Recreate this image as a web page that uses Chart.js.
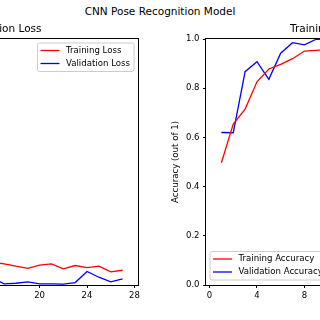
<!DOCTYPE html>
<html>
<head>
<meta charset="utf-8">
<script src="https://cdn.jsdelivr.net/npm/chart.js@4"></script>
<style>
  html, body { margin: 0; padding: 0; width: 320px; height: 320px; overflow: hidden; background: #fff; }
  #suptitle { position: absolute; left: 0; top: 5px; width: 320px; text-align: center;
              font: 10.5px "DejaVu Sans"; line-height: 12px; color: #000; }
  canvas { position: absolute; top: 0; }
  #lossChart { left: -261px; }
  #accChart { left: 146px; }
</style>
</head>
<body>
<div id="suptitle">CNN Pose Recognition Model</div>
<canvas id="lossChart" width="419" height="320"></canvas>
<canvas id="accChart" width="419" height="320"></canvas>
<script>
// data (epochs 1-16 of the loss plot and 10-27 of accuracy are cropped out, estimated)
const epochs = [1, 2, 3, 4, 5, 6, 7, 8, 9, 10, 11, 12, 13, 14, 15, 16, 17, 18, 19, 20, 21, 22, 23, 24, 25, 26, 27];
const trainLoss = [1.95, 1.02, 0.78, 0.55, 0.42, 0.38, 0.33, 0.29, 0.27, 0.26, 0.25, 0.245, 0.24, 0.235, 0.23, 0.231,
                   0.215, 0.191, 0.170, 0.201, 0.215, 0.164, 0.198, 0.177, 0.191, 0.134, 0.150];
const valLoss = [1.15, 1.05, 0.42, 0.30, 0.46, 0.18, 0.07, 0.09, 0.03, 0.025, 0.04, 0.02, 0.03, 0.015, 0.05, 0.075,
                 0.012, 0.018, 0.032, 0.012, 0.012, 0.008, 0.025, 0.137, 0.079, 0.032, 0.063];
const trainAcc = [0.497, 0.654, 0.715, 0.826, 0.878, 0.897, 0.920, 0.951, 0.954, 0.958, 0.962, 0.965, 0.968, 0.970,
                  0.972, 0.975, 0.976, 0.978, 0.977, 0.979, 0.981, 0.980, 0.982, 0.983, 0.984, 0.985, 0.986];
const valAcc = [0.620, 0.619, 0.867, 0.908, 0.836, 0.942, 0.985, 0.976, 0.999, 1.0, 1.0, 0.995, 1.0, 1.0, 0.99, 1.0,
                1.0, 1.0, 0.995, 1.0, 1.0, 1.0, 1.0, 0.97, 0.985, 1.0, 0.99];
const epochTicks = [0, 4, 8, 12, 16, 20, 24, 28];
const lossTicks = [0, 0.5, 1.0, 1.5, 2.0, 2.5];
const accTicks = [0, 0.2, 0.4, 0.6, 0.8, 1.0];

Chart.defaults.font.family = '"DejaVu Sans"';
Chart.defaults.color = '#000';

// matplotlib-ish frame, axes title and legend inside the axes
const mplLegend = {
    id: 'mplLegend',
    afterDraw(chart, args, opts) {
        const { ctx, chartArea: a } = chart;
        ctx.save();
        ctx.strokeStyle = '#000';
        ctx.lineWidth = 1;
        ctx.strokeRect(a.left - 0.5, a.top - 0.5, a.right - a.left + 1, a.bottom - a.top + 1);

        // title centred over the axes, like ax.set_title
        ctx.font = '10.5px "DejaVu Sans"';
        ctx.fillStyle = '#000';
        ctx.textAlign = 'center';
        ctx.textBaseline = 'middle';
        ctx.fillText(opts.title, (a.left + a.right) / 2, a.top - 10);

        const items = chart.data.datasets.map(d => ({ text: d.label, color: d.borderColor }));
        ctx.font = '8.6px "DejaVu Sans"';
        ctx.textAlign = 'left';
        const textW = Math.max(...items.map(i => ctx.measureText(i.text).width));
        const boxW = 3 + 19 + 6.5 + textW + 4;
        const boxH = 28.5;
        let x, y;
        if (opts.corner === 'upper right') {
            x = a.right - 4 - boxW;
            y = a.top + 4;
        } else {
            x = a.left + 4;
            y = a.bottom - 5 - boxH;
        }
        ctx.fillStyle = 'rgba(255,255,255,0.8)';
        ctx.strokeStyle = '#cccccc';
        ctx.beginPath();
        ctx.roundRect(x, y, boxW, boxH, 2);
        ctx.fill();
        ctx.stroke();
        items.forEach((it, i) => {
            const cy = y + 7.5 + i * 13;
            ctx.strokeStyle = it.color;
            ctx.lineWidth = 1.3;
            ctx.beginPath();
            ctx.moveTo(x + 3, cy);
            ctx.lineTo(x + 22, cy);
            ctx.stroke();
            ctx.fillStyle = '#000';
            ctx.fillText(it.text, x + 28.5, cy);
        });
        ctx.restore();
    }
};

function series(label, values, color) {
    return {
        label: label,
        data: epochs.map((e, i) => ({ x: e, y: values[i] })),
        borderColor: color,
        borderWidth: 1.3,
        pointRadius: 0,
        fill: false,
        tension: 0
    };
}

function makeOptions(title, yLabel, yMin, yMax, yTicks, corner) {
    return {
        responsive: false,
        animation: false,
        layout: { padding: { top: 39, right: 20, bottom: 0, left: 0 } },
        plugins: {
            legend: { display: false },
            tooltip: { enabled: false },
            title: { display: false },
            mplLegend: { corner: corner, title: title }
        },
        scales: {
            x: {
                type: 'linear', min: -0.3, max: 28.3,
                afterBuildTicks: s => { s.ticks = epochTicks.map(v => ({ value: v })); },
                afterFit: s => { s.height = 35; },
                grid: { drawOnChartArea: false, tickLength: 3, tickColor: '#000' },
                border: { display: false },
                ticks: { font: { size: 8.5 }, color: '#000', padding: 3, maxRotation: 0, autoSkip: false }
            },
            y: {
                min: yMin, max: yMax,
                afterBuildTicks: s => { s.ticks = yTicks.map(v => ({ value: v })); },
                afterFit: s => { s.width = 60; },
                grid: { drawOnChartArea: false, tickLength: 3, tickColor: '#000' },
                border: { display: false },
                ticks: { font: { size: 8.5 }, color: '#000', padding: 3.5, autoSkip: false,
                         callback: v => v.toFixed(1) },
                title: { display: true, text: yLabel, color: '#000', font: { size: 8.6 },
                         padding: { top: 25, bottom: 0 } }
            }
        }
    };
}

new Chart(document.getElementById('lossChart'), {
    type: 'line',
    data: { datasets: [series('Training Loss', trainLoss, 'red'), series('Validation Loss', valLoss, 'blue')] },
    options: makeOptions('Training and Validation Loss', 'Loss', 0, 2.5, lossTicks, 'upper right'),
    plugins: [mplLegend]
});

new Chart(document.getElementById('accChart'), {
    type: 'line',
    data: { datasets: [series('Training Accuracy', trainAcc, 'red'), series('Validation Accuracy', valAcc, 'blue')] },
    options: makeOptions('Training and Validation Accuracy', 'Accuracy (out of 1)', 0, 1.0, accTicks, 'lower left'),
    plugins: [mplLegend]
});
</script>
</body>
</html>
